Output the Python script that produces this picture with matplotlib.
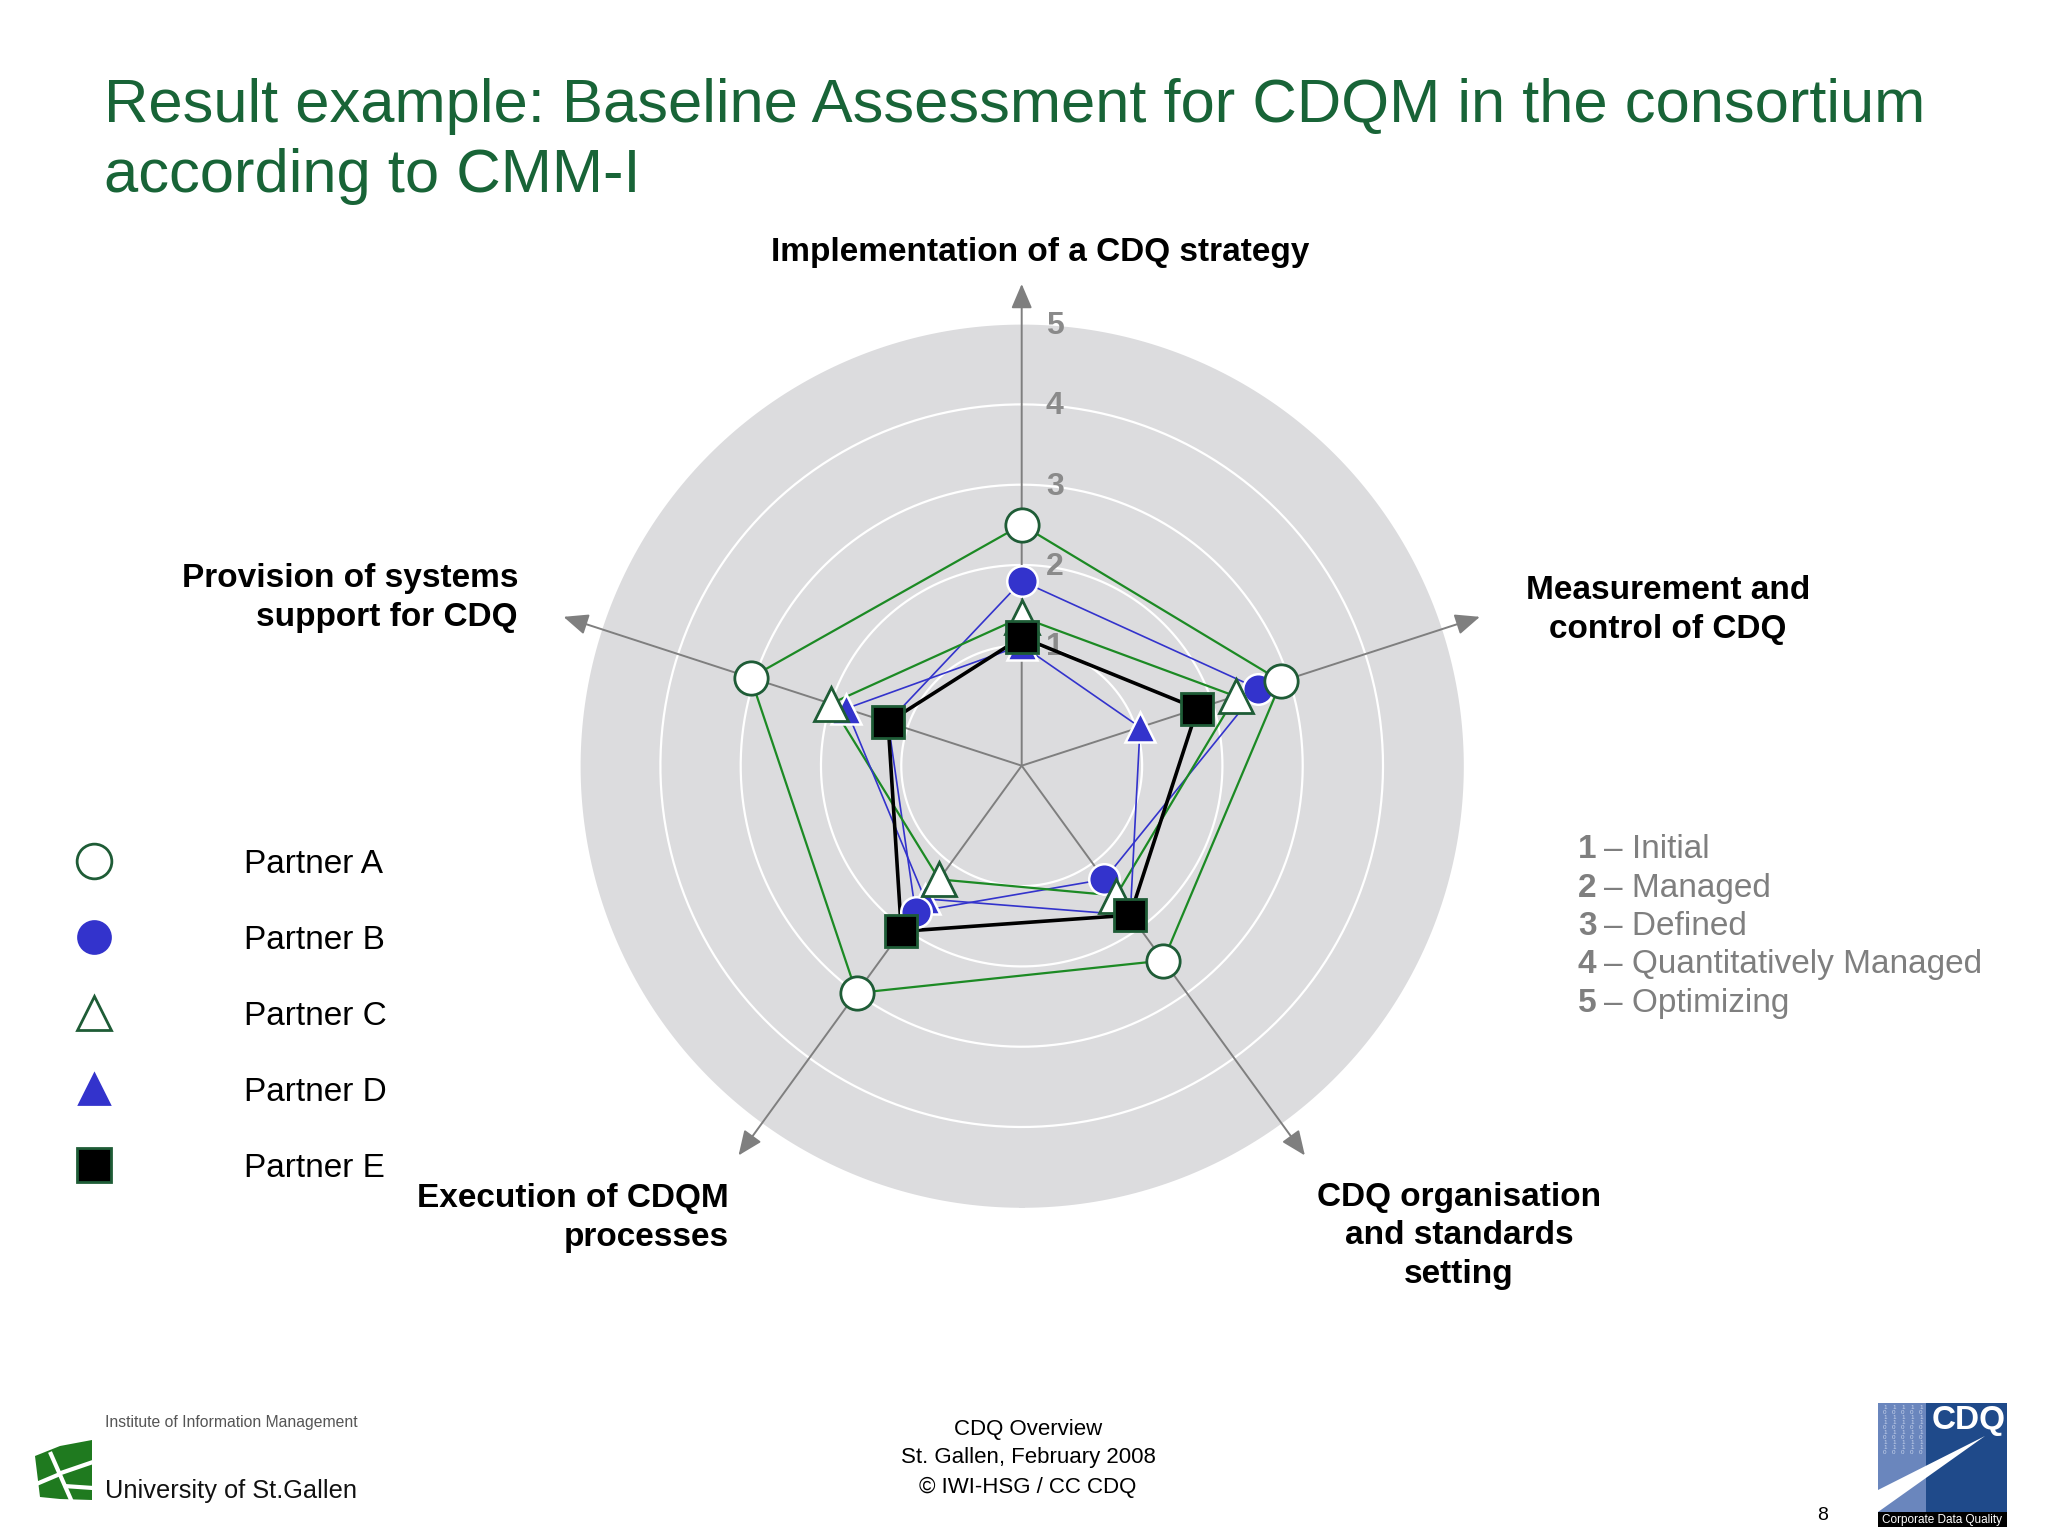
import numpy as np
import matplotlib
matplotlib.use("Agg")
import matplotlib.pyplot as plt
from matplotlib.lines import Line2D
from matplotlib.patches import Rectangle, Polygon
from matplotlib.transforms import offset_copy

plt.rcParams['font.family'] = ['Liberation Sans', 'DejaVu Sans']

# ---- data (CMM-I level per dimension) ----
dimensions = ["Implementation of a CDQ strategy",
              "Measurement and\ncontrol of CDQ",
              "CDQ organisation\nand standards\nsetting",
              "Execution of CDQM\nprocesses",
              "Provision of systems\nsupport for CDQ"]
partners = ["Partner A", "Partner B", "Partner C", "Partner D", "Partner E"]
partner_a = [2.5, 2.9, 2.5, 3.0, 3.05]
partner_b = [1.8, 2.6, 1.25, 1.75, 1.25]
partner_c = [1.35, 2.3, 1.5, 1.25, 2.0]
partner_d = [1.0, 1.05, 1.8, 1.55, 1.8]
partner_e = [1.1, 1.8, 1.8, 2.05, 1.25]
levels = [1, 2, 3, 4, 5]
level_names = ["Initial", "Managed", "Defined", "Quantitatively Managed", "Optimizing"]

GREEN = "#1c8a24"
DKGREEN = "#1e5c36"
BLUE = "#3333cc"
GRAY = "#7f7f7f"
W, H = 2048, 1536

fig = plt.figure(figsize=(W / 100, H / 100), dpi=100, facecolor="white")

# background axes in pixel coordinates for slide text and logos
bg = fig.add_axes([0, 0, 1, 1])
bg.set_xlim(0, W)
bg.set_ylim(H, 0)
bg.axis("off")

title_col = "#186437"
bg.text(104, 122, "Result example: Baseline Assessment for CDQM in the consortium",
        fontsize=44.3, color=title_col, va="baseline")
bg.text(104, 192, "according to CMM-I", fontsize=44.3, color=title_col, va="baseline")

# ---- radar chart ----
cx, cy, R = 1021.7, 765.7, 441.6      # centre and radius of level 5 (px)
rmin, rdisc, rmax = -0.5, 5.0, 5.6
half = R * (rmax - rmin) / (rdisc - rmin)
ax = fig.add_axes([(cx - half) / W, 1 - (cy + half) / H, 2 * half / W, 2 * half / H],
                  projection="polar")
ax.set_theta_zero_location("N")
ax.set_theta_direction(-1)
ax.set_ylim(rmin, rmax)
ax.set_facecolor("none")
ax.spines["polar"].set_visible(False)
ax.grid(False)
ax.set_xticks([])
ax.set_yticks([])

th = np.linspace(0, 2 * np.pi, 400)
ax.fill_between(th, rmin, rdisc, color="#dcdcde", lw=0, zorder=0)
for v in levels[:-1]:
    ax.plot(th, np.full_like(th, v), color="white", lw=1.6, zorder=1)

angles = np.arange(len(dimensions)) * 2 * np.pi / len(dimensions)
for a in angles:
    ax.annotate("", xy=(a, 5.5), xytext=(a, rmin),
                arrowprops=dict(arrowstyle="-|>,head_length=0.75,head_width=0.32",
                                color=GRAY, lw=1.4, shrinkA=0, shrinkB=0,
                                mutation_scale=20), zorder=2)

lab_tr = offset_copy(ax.transData, fig=fig, x=33, y=-2, units="dots")
for v in levels:
    ax.text(0, v, str(v), transform=lab_tr, fontsize=23, fontweight="bold",
            color="#8a8a8a", ha="center", va="center", zorder=2)

styles = {
    "Partner A": dict(vals=partner_a, color=GREEN, lw=1.6, marker="o", ms=24,
                      mfc="white", mec=DKGREEN, mew=2.0, mz=6),
    "Partner B": dict(vals=partner_b, color=BLUE, lw=1.2, marker="o", ms=22,
                      mfc=BLUE, mec="white", mew=1.8, mz=4),
    "Partner C": dict(vals=partner_c, color=GREEN, lw=1.6, marker="^", ms=24,
                      mfc="white", mec=DKGREEN, mew=2.0, mz=5),
    "Partner D": dict(vals=partner_d, color=BLUE, lw=1.2, marker="^", ms=21,
                      mfc=BLUE, mec="white", mew=1.8, mz=3),
    "Partner E": dict(vals=partner_e, color="black", lw=2.6, marker="s", ms=23,
                      mfc="black", mec=DKGREEN, mew=2.0, mz=7),
}
ang_closed = np.append(angles, angles[0])
for name in partners:
    s = styles[name]
    vals = np.append(s["vals"], s["vals"][0])
    ax.plot(ang_closed, vals, color=s["color"], lw=s["lw"], zorder=3)
for name in partners:
    s = styles[name]
    ax.plot(angles, s["vals"], ls="none", marker=s["marker"], ms=s["ms"],
            mfc=s["mfc"], mec=s["mec"], mew=s["mew"], zorder=s["mz"], clip_on=False)

# dimension labels
lab_kw = dict(fontsize=24, fontweight="bold", color="black", linespacing=1.3)
bg.text(1040, 253, dimensions[0], ha="center", va="center", **lab_kw)
bg.text(1668, 610, dimensions[1], ha="center", va="center", multialignment="center", **lab_kw)
bg.text(1459, 1236, dimensions[2], ha="center", va="center", multialignment="center", **lab_kw)
bg.text(729, 1218, dimensions[3], ha="right", va="center", multialignment="right", **lab_kw)
bg.text(518, 598, dimensions[4], ha="right", va="center", multialignment="right", **lab_kw)

# partner legend
handles = []
for name in partners:
    s = styles[name]
    mec = s["mec"] if s["mfc"] != BLUE else BLUE
    handles.append(Line2D([], [], ls="none", marker=s["marker"], ms=s["ms"] + 1,
                          mfc=s["mfc"], mec=mec, mew=2.0))
fig.legend(handles, partners, loc="upper left", bbox_to_anchor=(60.7 / W, 1 - 849 / H),
           frameon=False, fontsize=24, handlelength=2, handletextpad=3.5,
           labelspacing=1.35, borderpad=0, borderaxespad=0)

# level legend
for i, (lv, nm) in enumerate(zip(levels, level_names)):
    y = 850 + i * 38.3
    bg.text(1578, y, str(lv), fontsize=24, fontweight="bold", color=GRAY, va="center")
    bg.text(1604, y, "\u2013 " + nm, fontsize=24, color=GRAY, va="center")

# footer
for i, line in enumerate(["CDQ Overview", "St. Gallen, February 2008", "\u00a9 IWI-HSG / CC CDQ"]):
    bg.text(1028, 1429 + i * 29, line, fontsize=16, ha="center", va="center")
bg.text(1823, 1516, "8", fontsize=14, ha="center", va="center")

# University of St.Gallen logo
bg.add_patch(Polygon([(35, 1456), (60, 1446), (92, 1440), (92, 1500), (60, 1499), (40, 1497)],
                     closed=True, color="#1f7a1f", lw=0))
for seg in [((50, 1452), (72, 1502)), ((58, 1474), (93, 1462)), ((34, 1485), (60, 1474)),
            ((64, 1486), (93, 1488))]:
    bg.plot(*zip(*seg), color="white", lw=3, solid_capstyle="butt")
bg.text(105, 1423, "Institute of Information Management", fontsize=11.3, color="#555555",
        va="center")
bg.text(105, 1491, "University of St.Gallen", fontsize=18.3, color="#111111", va="center")

# CDQ logo
bg.add_patch(Rectangle((1878, 1403), 129, 109, color="#1f4a8a", lw=0))
bg.add_patch(Rectangle((1878, 1403), 48, 109, color="#6a86bd", lw=0))
for k in range(5):
    bg.text(1883 + k * 9, 1405, "1\n0\n1\n1\n0\n1\n0\n1\n1\n0", fontsize=4.5,
            color="#c8d4ec", va="top", ha="left", linespacing=1.0)
bg.add_patch(Polygon([(1878, 1490), (1985, 1436), (1878, 1512)], closed=True,
                     color="white", lw=0))
bg.text(2006, 1421, "CDQ", fontsize=24, fontweight="bold", color="white",
        ha="right", va="center")
bg.add_patch(Rectangle((1878, 1512), 129, 15, color="black", lw=0))
bg.text(1942, 1520, "Corporate Data Quality", fontsize=8.5, color="white",
        ha="center", va="center")

fig.savefig("out.png", dpi=100, facecolor="white")
